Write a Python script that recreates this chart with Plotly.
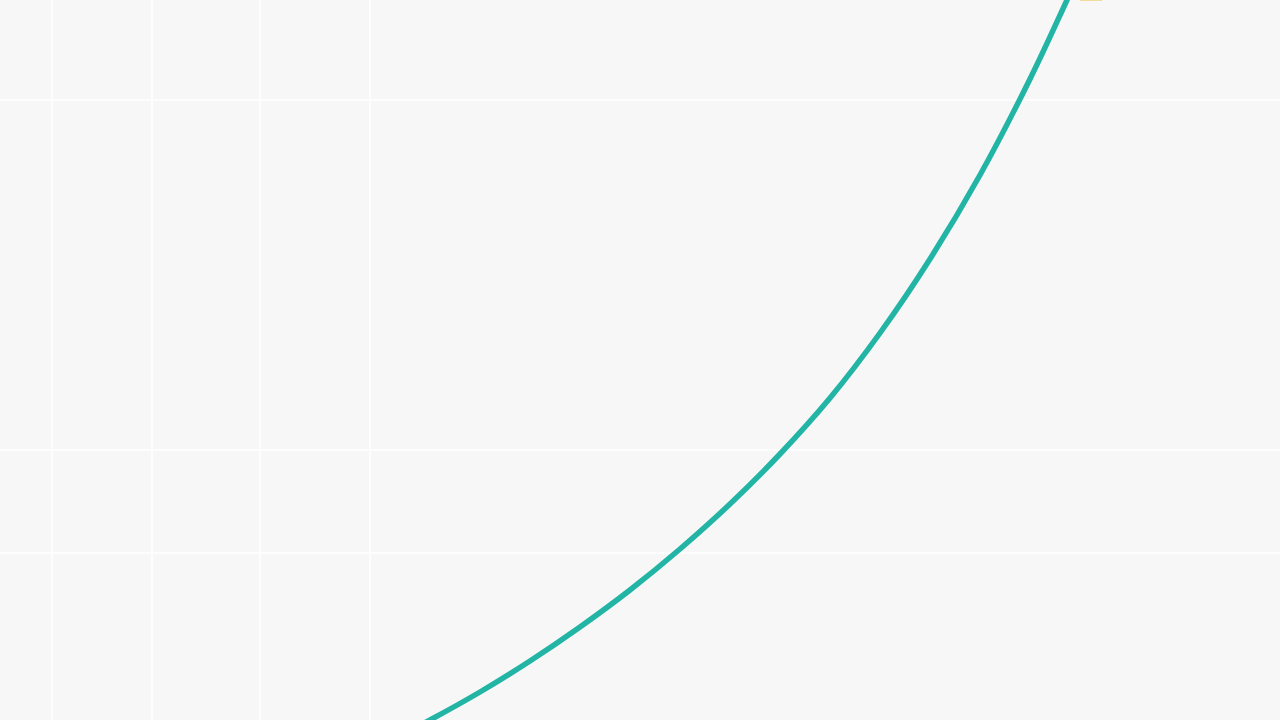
import plotly.graph_objects as go

# curve values
curve_x = [380, 430, 480, 530, 580, 630, 680, 730, 780, 830, 880, 930, 980, 1030, 1067, 1100]
curve_y = [-26, 0, 28, 59, 93, 130, 171, 216, 266, 322, 387, 461, 545, 641, 720, 793]

# small yellow piece at the top edge
accent_x = [1080, 1102]
accent_y = [720.5, 720.5]

# grid positions
grid_x = [52, 152, 260, 370]
grid_y = [167, 270, 620]

fig = go.Figure()

fig.add_trace(go.Scatter(
    x=curve_x, y=curve_y, mode='lines',
    line=dict(color='#22b5a5', width=5.5, shape='spline', smoothing=1.0),
    showlegend=False, hoverinfo='skip'
))

fig.add_trace(go.Scatter(
    x=accent_x, y=accent_y, mode='lines',
    line=dict(color='#f3dc9a', width=3),
    showlegend=False, hoverinfo='skip'
))

fig.update_layout(
    width=1280, height=720,
    margin=dict(l=0, r=0, t=0, b=0),
    paper_bgcolor='#f7f7f7',
    plot_bgcolor='#f7f7f7',
    xaxis=dict(range=[0, 1280], tickvals=grid_x, showticklabels=False,
               gridcolor='#fdfdfd', gridwidth=2, zeroline=False, fixedrange=True),
    yaxis=dict(range=[0, 720], tickvals=grid_y, showticklabels=False,
               gridcolor='#fdfdfd', gridwidth=2, zeroline=False, fixedrange=True),
)

# page margin off so the plot fills the window
fig.write_html("out.html", config={'displayModeBar': False},
               post_script="document.body.style.margin='0';")
